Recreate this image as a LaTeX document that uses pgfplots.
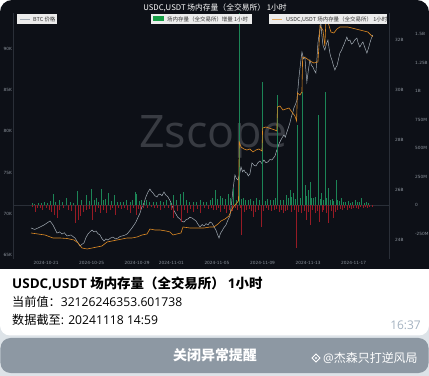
\documentclass[border=0pt]{standalone}
\usepackage{fontspec}
\usepackage{pgfplots}
\pgfplotsset{compat=1.18}
\setmainfont{Open Sans}
\newfontfamily\cjk{Noto Sans CJK SC}
\newfontfamily\dv{DejaVu Sans}
\definecolor{bgdark}{HTML}{0D1017}
\definecolor{chatbg}{HTML}{DDE3E8}
\definecolor{btngray}{HTML}{8D98A3}
\definecolor{labelgray}{HTML}{8C939C}
\definecolor{btcgray}{HTML}{A3ACB5}
\definecolor{usdorange}{HTML}{DD8A24}
\definecolor{bargreen}{HTML}{1C8556}
\definecolor{barred}{HTML}{961B25}
\definecolor{axisgray}{HTML}{2A2F38}
\definecolor{wmark}{HTML}{383B42}
\definecolor{axgreen}{HTML}{1A6E4C}
\definecolor{timegray}{HTML}{A5B3C1}
\pgfplotsset{
  base/.style={at={(13bp,117bp)}, anchor=south west, scale only axis,
    width=376bp, height=246bp, xmin=-2.9, xmax=30.1,
    tick label style={font=\dv\fontsize{4.3}{5}\selectfont, text=labelgray},
    major tick length=0pt, minor tick num=0},
}
\begin{document}
\begin{tikzpicture}[x=1bp,y=1bp]
\useasboundingbox (0,0) rectangle (429,376);
\fill[chatbg] (0,0) rectangle (429,376);
% white bubble
\fill[white] (0,376) -- (0,346) [rounded corners=10bp] -- (0,40.5) -- (429,40.5) [sharp corners] -- (429,376) -- cycle;
% dark chart
\fill[bgdark] (0,107) [rounded corners=12bp] -- (0,376) -- (429,376) [sharp corners] -- (429,107) -- cycle;
% watermark
\node[anchor=base west, inner sep=0pt, text=wmark, font=\fontsize{45}{45}\selectfont] at (139,229) {Zscope};
% chart title
\node[anchor=base, inner sep=0pt, text=white, font=\cjk\fontsize{7.8}{8}\selectfont] at (215,366) {USDC,USDT 场内存量（全交易所） 1小时};

% ---------- BTC axis ----------
\begin{axis}[base, ymin=64.515, ymax=94.37,
  axis x line*=bottom, axis y line*=left,
  x axis line style={draw=none}, y axis line style={draw=axisgray, line width=0.5bp},
  ytick={65,70,75,80,85,90}, yticklabels={65K,70K,75K,80K,85K,90K},
  yticklabel style={inner sep=0.8bp},
  xtick={0,4,8,11,15,19,23,27},
  xticklabels={2024-10-21,2024-10-25,2024-10-29,2024-11-01,2024-11-05,2024-11-09,2024-11-13,2024-11-17},
  xticklabel style={inner sep=0pt, yshift=-2.3bp}]
\addplot[btcgray, line width=0.5bp] table[row sep=\\] {
x y\\
-1.32 68.28\\ -1.00 68.10\\ -0.70 68.28\\ -0.45 68.45\\ -0.18 68.64\\ 0.10 68.90\\ 0.35 69.13\\ 0.61 68.64\\ 0.96 67.67\\ 1.20 67.80\\ 1.40 67.55\\ 1.60 67.70\\ 1.84 67.31\\ 2.19 67.43\\ 2.40 67.20\\ 2.54 67.06\\ 2.75 66.60\\ 2.98 66.09\\ 3.15 66.30\\ 3.33 66.46\\ 3.50 67.10\\ 3.68 67.55\\ 3.85 67.80\\ 4.04 68.03\\ 4.20 67.80\\ 4.39 67.91\\ 4.55 67.60\\ 4.74 67.43\\ 4.90 67.00\\ 5.09 66.70\\ 5.25 66.95\\ 5.44 66.82\\ 5.65 67.05\\ 5.88 67.18\\ 6.10 66.95\\ 6.32 67.06\\ 6.50 67.25\\ 6.67 67.31\\ 6.90 67.40\\ 7.11 67.55\\ 7.30 67.85\\ 7.54 68.28\\ 7.70 68.60\\ 7.89 69.00\\ 8.05 69.50\\ 8.25 70.10\\ 8.40 70.80\\ 8.60 71.31\\ 8.75 72.00\\ 8.95 72.65\\ 9.12 73.01\\ 9.25 72.70\\ 9.39 72.52\\ 9.55 72.20\\ 9.74 72.04\\ 9.85 72.30\\ 10.00 72.40\\ 10.18 72.20\\ 10.35 72.65\\ 10.50 72.30\\ 10.70 72.04\\ 10.88 71.60\\ 11.05 71.07\\ 11.22 70.40\\ 11.40 69.98\\ 11.55 69.60\\ 11.75 69.37\\ 11.92 69.10\\ 12.11 69.00\\ 12.30 69.30\\ 12.46 69.37\\ 12.62 69.60\\ 12.81 69.49\\ 13.00 69.30\\ 13.16 69.13\\ 13.35 68.70\\ 13.51 68.40\\ 13.70 68.70\\ 13.86 68.52\\ 14.05 68.80\\ 14.21 68.64\\ 14.40 69.00\\ 14.56 68.88\\ 14.75 68.40\\ 14.91 68.03\\ 15.05 67.50\\ 15.18 67.06\\ 15.30 67.60\\ 15.44 67.91\\ 15.60 68.30\\ 15.79 68.64\\ 15.95 69.20\\ 16.14 69.73\\ 16.28 71.20\\ 16.40 72.89\\ 16.58 74.71\\ 16.70 74.30\\ 16.84 74.10\\ 17.00 74.90\\ 17.11 75.68\\ 17.25 75.10\\ 17.37 75.32\\ 17.50 75.00\\ 17.63 74.95\\ 17.75 74.60\\ 17.89 74.83\\ 18.07 76.17\\ 18.25 75.90\\ 18.42 75.80\\ 18.60 76.20\\ 18.77 76.41\\ 18.95 76.10\\ 19.12 76.53\\ 19.30 76.20\\ 19.47 76.29\\ 19.65 76.60\\ 19.82 76.53\\ 20.09 77.01\\ 20.22 77.60\\ 20.35 78.11\\ 20.48 78.60\\ 20.61 78.96\\ 20.75 79.30\\ 20.88 79.56\\ 21.00 79.30\\ 21.14 79.93\\ 21.28 80.50\\ 21.40 81.02\\ 21.50 81.60\\ 21.58 81.99\\ 21.68 82.40\\ 21.75 82.84\\ 21.90 83.30\\ 22.02 83.81\\ 22.10 85.00\\ 22.19 86.48\\ 22.28 87.60\\ 22.37 88.67\\ 22.46 89.64\\ 22.60 88.80\\ 22.72 89.03\\ 22.80 87.50\\ 22.89 86.00\\ 23.02 87.40\\ 23.16 88.67\\ 23.30 88.00\\ 23.42 87.82\\ 23.55 87.40\\ 23.68 87.09\\ 23.78 88.90\\ 23.86 90.73\\ 23.95 91.60\\ 24.04 92.31\\ 24.12 93.16\\ 24.20 91.80\\ 24.30 90.49\\ 24.40 90.10\\ 24.47 89.88\\ 24.60 90.60\\ 24.74 91.09\\ 24.83 90.20\\ 24.91 89.51\\ 25.00 89.00\\ 25.09 88.67\\ 25.22 88.00\\ 25.35 87.45\\ 25.45 87.80\\ 25.53 87.94\\ 25.66 88.70\\ 25.79 89.51\\ 25.92 89.80\\ 26.05 90.24\\ 26.22 90.80\\ 26.40 91.46\\ 26.52 91.00\\ 26.67 91.09\\ 26.80 90.60\\ 26.93 90.73\\ 27.10 91.10\\ 27.28 91.33\\ 27.40 90.70\\ 27.54 90.24\\ 27.68 90.60\\ 27.81 90.85\\ 28.00 90.10\\ 28.16 89.51\\ 28.30 90.10\\ 28.42 90.73\\ 28.55 91.30\\ 28.68 91.70\\
};
\end{axis}

% ---------- bar axis ----------
\begin{axis}[base, ymin=-473.7, ymax=1684,
  axis y line*=right, axis x line=none, xtick=\empty,
  y axis line style={draw=none},
  ytick={-250,0,250,500,750,1000,1250,1500},
  yticklabels={-250M,0,250M,500M,750M,1B,1.25B,1.5B},
  yticklabel style={anchor=west, inner sep=0pt, xshift=26bp}]
\addplot[axisgray, line width=0.4bp] coordinates {(-2.9,0) (30.1,0)};
\addplot[ycomb, draw=bargreen, line width=0.5bp] table[row sep=\\] {
x y\\
-1.2 15\\ -1.0 10\\ -0.7 20\\ -0.4 15\\ -0.2 25\\ 0.1 20\\ 0.4 35\\ 0.64 100\\ 0.85 30\\ 1.17 45\\ 1.45 25\\ 1.81 60\\ 2.1 30\\ 2.35 20\\ 2.75 122\\ 3.13 40\\ 3.51 88\\ 3.75 35\\ 3.95 140\\ 4.2 40\\ 4.44 60\\ 4.62 25\\ 4.82 140\\ 5.0 40\\ 5.18 50\\ 5.47 105\\ 5.72 35\\ 5.99 88\\ 6.25 30\\ 6.49 30\\ 6.8 25\\ 7.08 40\\ 7.35 30\\ 7.6 45\\ 7.81 114\\ 7.95 100\\ 8.15 35\\ 8.39 40\\ 8.6 25\\ 8.83 45\\ 9.1 30\\ 9.41 30\\ 9.7 25\\ 10.0 35\\ 10.3 30\\ 10.58 40\\ 10.9 30\\ 11.17 88\\ 11.45 40\\ 11.75 100\\ 12.05 110\\ 12.34 45\\ 12.6 30\\ 12.92 30\\ 13.2 25\\ 13.51 45\\ 13.8 25\\ 14.09 30\\ 14.4 45\\ 14.6 60\\ 14.82 130\\ 15.05 50\\ 15.26 80\\ 15.5 58\\ 15.70 50\\ 15.99 100\\ 16.2 60\\ 16.43 150\\ 16.7 40\\ 16.99 1680\\ 17.15 50\\ 17.31 58\\ 17.5 40\\ 17.75 44\\ 17.95 50\\ 18.2 35\\ 18.48 58\\ 18.7 40\\ 18.97 1082\\ 19.2 35\\ 19.4 50\\ 19.65 44\\ 19.9 40\\ 20.09 58\\ 20.32 965\\ 20.55 45\\ 20.8 40\\ 21.11 88\\ 21.25 60\\ 21.40 131\\ 21.55 70\\ 21.70 102\\ 21.85 50\\ 22.08 700\\ 22.3 60\\ 22.52 990\\ 22.72 175\\ 22.87 80\\ 23.01 131\\ 23.16 204\\ 23.3 60\\ 23.45 58\\ 23.65 70\\ 23.89 790\\ 24.04 50\\ 24.18 102\\ 24.3 45\\ 24.47 990\\ 24.62 60\\ 24.77 146\\ 24.95 40\\ 25.1 50\\ 25.25 35\\ 25.44 220\\ 25.6 40\\ 25.75 35\\ 25.94 58\\ 26.1 30\\ 26.3 25\\ 26.5 35\\ 26.7 20\\ 26.9 30\\ 27.1 44\\ 27.3 25\\ 27.5 30\\ 27.69 58\\ 27.9 20\\ 28.1 25\\ 28.3 15\\
};
\addplot[ycomb, draw=barred, line width=0.5bp] table[row sep=\\] {
x y\\
-1.25 -20\\ -0.96 -60\\ -0.75 -30\\ -0.5 -25\\ -0.3 -40\\ 0.0 -30\\ 0.25 -45\\ 0.50 -60\\ 0.72 -88\\ 0.94 -117\\ 1.2 -40\\ 1.5 -30\\ 1.96 -44\\ 2.2 -50\\ 2.54 -160\\ 2.82 -130\\ 2.98 -100\\ 3.27 -58\\ 3.5 -40\\ 3.8 -35\\ 4.02 -130\\ 4.30 -58\\ 4.55 -30\\ 4.74 -73\\ 5.05 -40\\ 5.26 -70\\ 5.61 -44\\ 5.85 -30\\ 6.05 -88\\ 6.35 -30\\ 6.6 -35\\ 6.9 -25\\ 7.15 -40\\ 7.37 -73\\ 7.65 -30\\ 7.88 -88\\ 8.1 -35\\ 8.25 -44\\ 8.5 -25\\ 8.9 -30\\ 9.2 -20\\ 9.5 -25\\ 9.8 -30\\ 10.05 -44\\ 10.35 -25\\ 10.7 -30\\ 10.95 -40\\ 11.2 -117\\ 11.5 -50\\ 11.9 -146\\ 12.15 -40\\ 12.40 -70\\ 12.7 -35\\ 12.95 -58\\ 13.25 -35\\ 13.52 -73\\ 13.9 -30\\ 14.2 -35\\ 14.5 -30\\ 14.68 -44\\ 14.9 -40\\ 15.15 -30\\ 15.32 -58\\ 15.6 -35\\ 15.85 -70\\ 16.1 -40\\ 16.3 -50\\ 16.6 -30\\ 16.8 -44\\ 17.05 -30\\ 17.17 -263\\ 17.4 -60\\ 17.6 -40\\ 17.85 -35\\ 18.05 -50\\ 18.18 -102\\ 18.4 -60\\ 18.6 -40\\ 18.92 -190\\ 19.1 -50\\ 19.3 -30\\ 19.5 -44\\ 19.75 -50\\ 20.0 -40\\ 20.2 -35\\ 20.45 -60\\ 20.6 -40\\ 20.82 -73\\ 21.0 -50\\ 21.2 -40\\ 21.5 -60\\ 21.75 -45\\ 21.99 -380\\ 22.15 -60\\ 22.4 -73\\ 22.62 -50\\ 22.87 -131\\ 23.05 -60\\ 23.2 -175\\ 23.4 -40\\ 23.6 -70\\ 23.8 -50\\ 24.0 -146\\ 24.2 -60\\ 24.35 -45\\ 24.6 -70\\ 24.8 -160\\ 25.0 -50\\ 25.2 -117\\ 25.4 -60\\ 25.6 -40\\ 25.8 -35\\ 26.0 -44\\ 26.2 -30\\ 26.4 -40\\ 26.6 -25\\ 26.8 -35\\ 27.0 -30\\ 27.2 -25\\ 27.4 -35\\ 27.6 -20\\ 27.8 -30\\ 28.0 -20\\ 28.2 -25\\ 28.4 -15\\ 28.6 -20\\
};
\draw[axgreen, line width=0.6bp] ([xshift=23bp,yshift=-3bp]rel axis cs:1,0) -- ([xshift=23bp,yshift=1bp]rel axis cs:1,1);
\end{axis}

% ---------- USDC,USDT axis ----------
\begin{axis}[base, ymin=23.24, ymax=33.08,
  axis y line*=right, axis x line=none, xtick=\empty,
  y axis line style={draw=axisgray, line width=0.4bp},
  ytick={24,26,28,30,32}, yticklabels={24B,26B,28B,30B,32B},
  yticklabel style={anchor=west, inner sep=0pt, xshift=6bp}]
\addplot[usdorange, line width=0.6bp] table[row sep=\\] {
x y\\
-1.32 24.28\\ -0.70 24.24\\ -0.09 24.20\\ 0.61 24.08\\ 1.23 24.08\\ 1.84 24.06\\ 2.46 24.00\\ 2.81 23.88\\ 3.16 23.68\\ 3.60 23.64\\ 4.04 23.68\\ 4.47 23.72\\ 4.91 23.76\\ 5.35 23.92\\ 5.79 23.96\\ 6.23 24.00\\ 6.67 24.04\\ 7.11 24.08\\ 7.54 24.08\\ 7.98 24.12\\ 8.42 24.20\\ 8.86 24.24\\ 9.12 24.44\\ 9.56 24.40\\ 10.00 24.40\\ 10.53 24.36\\ 10.88 24.32\\ 11.14 24.20\\ 11.49 24.24\\ 11.84 24.28\\ 12.02 24.52\\ 12.63 24.48\\ 13.25 24.48\\ 13.86 24.48\\ 14.39 24.52\\ 14.74 24.52\\ 15.09 24.64\\ 15.35 24.76\\ 15.70 24.84\\ 16.05 24.96\\ 16.32 25.24\\ 16.58 25.40\\ 16.89 25.56\\ 16.96 27.92\\ 17.11 27.72\\ 17.37 27.64\\ 17.63 27.60\\ 17.89 27.64\\ 18.16 27.52\\ 18.42 27.60\\ 18.68 27.64\\ 18.95 27.56\\ 19.01 28.48\\ 19.30 28.52\\ 19.56 28.48\\ 19.82 28.44\\ 20.09 28.40\\ 20.26 28.36\\ 20.31 29.32\\ 20.53 29.36\\ 20.79 29.20\\ 21.05 29.24\\ 21.32 29.28\\ 21.58 29.12\\ 21.84 28.96\\ 21.99 28.76\\ 22.06 29.88\\ 22.28 29.80\\ 22.46 29.92\\ 22.52 31.32\\ 22.81 31.28\\ 23.16 31.16\\ 23.51 31.08\\ 23.86 31.12\\ 23.97 31.88\\ 24.04 32.56\\ 24.30 32.40\\ 24.47 31.76\\ 24.56 32.76\\ 24.74 32.72\\ 25.00 32.32\\ 25.26 32.28\\ 25.53 32.44\\ 25.79 32.52\\ 26.14 32.52\\ 26.49 32.52\\ 26.84 32.48\\ 27.19 32.44\\ 27.54 32.40\\ 27.89 32.36\\ 28.25 32.32\\ 28.51 32.20\\ 28.68 32.13\\
};
\end{axis}

% legends
\begin{scope}[font=\cjk\fontsize{5.5}{6}\selectfont]
\fill[white!85!gray] (17,352) rectangle (57,362);
\draw[btcgray, line width=0.6bp] (20,357) -- (30,357);
\node[anchor=base west, inner sep=0pt, text=black!80] at (33,355) {BTC 价格};
\fill[white!85!gray] (151,352) rectangle (252,362);
\fill[bargreen!80!green] (153,354.5) rectangle (164,359.5);
\node[anchor=base west, inner sep=0pt, text=black!80] at (167,355) {场内存量（全交易所）增量 1小时};
\fill[white!85!gray] (269,352) rectangle (387,362);
\draw[usdorange!70!white, line width=0.8bp] (272,357) -- (282,357);
\node[anchor=base west, inner sep=0pt, text=black!80] at (286,355) {USDC,USDT 场内存量（全交易所） 1小时};
\end{scope}

% message text
\node[anchor=base west, inner sep=0pt, font=\fontsize{13.5}{14}\selectfont\bfseries] at (12,88) {USDC,USDT \cjk\bfseries 场内存量（全交易所） \normalfont\bfseries 1\cjk\bfseries 小时};
\node[anchor=base west, inner sep=0pt, font=\fontsize{12.2}{14}\selectfont] at (12,69.5) {{\cjk 当前值：}32126246353.601738};
\node[anchor=base west, inner sep=0pt, font=\fontsize{12.2}{14}\selectfont] at (12,51.5) {{\cjk 数据截至}: 20241118 14:59};
\node[anchor=base east, inner sep=0pt, text=timegray, font=\fontsize{12}{14}\selectfont] at (421,47) {16:37};

% button
\fill[btngray, rounded corners=10bp] (0.5,3) rectangle (428.5,38);
\node[anchor=base, inner sep=0pt, text=white, font=\cjk\fontsize{14}{15}\selectfont\bfseries] at (215,15.7) {关闭异常提醒};
\draw[white, line width=1bp] (316,14) -- (320,18) -- (316,22) -- (312,18) -- cycle;
\fill[white] (316,18) circle (1.1bp);
\node[anchor=base west, inner sep=0pt, text=white, font=\fontsize{12}{13}\selectfont] at (323,13.5) {@{\cjk 杰森只打逆风局}};
\end{tikzpicture}
\end{document}
